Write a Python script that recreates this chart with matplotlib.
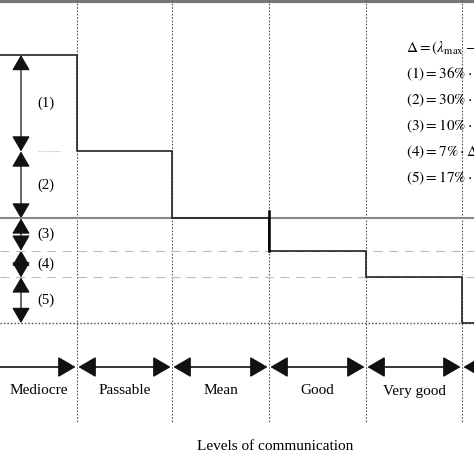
import matplotlib.pyplot as plt
from matplotlib.patches import FancyArrowPatch

plt.rcParams['font.family'] = ['Liberation Serif', 'DejaVu Serif']
plt.rcParams['mathtext.fontset'] = 'stix'

# level boundaries along x (pixel-ish units) and class names
bounds = [-20, 77, 172, 269, 366, 462, 560]
classes = ["Mediocre", "Passable", "Mean", "Good", "Very good"]
# step heights (percent of delta)
levels = [100, 64, 39, 27, 17, 0]
steps = [100, 64, 39, 27, 17, 0]   # value held on each interval
parts = ["(1)", "(2)", "(3)", "(4)", "(5)"]
formulas = [r"$\Delta=\left(\lambda_{\max}-\lambda_{\min}\right)$",
            r"$(1)=36\%\cdot\Delta$", r"$(2)=30\%\cdot\Delta$",
            r"$(3)=10\%\cdot\Delta$", r"$(4)=7\%\cdot\Delta$",
            r"$(5)=17\%\cdot\Delta$"]

Y0, Y100 = 323, 55
def py(v):
    return Y0 - (Y0 - Y100) * v / 100

fig = plt.figure(figsize=(4.74, 4.74), dpi=100)
ax = fig.add_axes([0, 0, 1, 1])
ax.set_xlim(0, 474)
ax.set_ylim(474, 0)
ax.axis("off")

# top border
ax.plot([0, 474], [1, 1], color="#777777", lw=3)

# vertical dotted boundaries
for b in bounds[1:-1]:
    ax.plot([b, b], [0, 422], color="#555555", lw=0.8, ls=(0, (1.5, 1.5)))

# horizontal reference lines
ax.plot([0, 474], [py(levels[2]), py(levels[2])], color="#888888", lw=1.5)
for v in levels[3:5]:
    ax.plot([0, 474], [py(v), py(v)], color="#bbbbbb", lw=0.8, ls=(0, (8, 6)))
ax.plot([0, 474], [py(0), py(0)], color="#444444", lw=1, ls=(0, (1, 1.5)))

# step function
xs, ys = [], []
for i, v in enumerate(steps):
    xs += [bounds[i], bounds[i + 1]]
    ys += [py(v), py(v)]
ax.plot(xs, ys, color="#222222", lw=1.2)
ax.plot([269, 269], [211, py(steps[3])], color="black", lw=1.8)

# left arrows for parts
for i, lab in enumerate(parts):
    a, b = py(levels[i]), py(levels[i + 1])
    ax.add_patch(FancyArrowPatch((21, a), (21, b), arrowstyle="<|-|>,head_length=0.6,head_width=0.35",
                 mutation_scale=16, color="#111111", lw=0.9, shrinkA=0, shrinkB=0))
    ax.text(37, (a + b) / 2, lab, fontsize=10.5, va="center", ha="left")
ax.plot([38, 60], [151, 151], color="#cccccc", lw=0.8, ls=(0, (2, 1)))

# formulas
for k, f in enumerate(formulas):
    ax.text(406, 48 + k * 26, f, fontsize=11, va="center", ha="left")

# bottom axis with double arrows
for i, name in enumerate(classes):
    ax.add_patch(FancyArrowPatch((bounds[i], 367), (bounds[i + 1], 367),
                 arrowstyle="<|-|>,head_length=0.6,head_width=0.35",
                 mutation_scale=18, color="#111111", lw=1.2, shrinkA=1, shrinkB=1))
    cx = (max(bounds[i], 0) + bounds[i + 1]) / 2
    ax.text(cx, 391, name, fontsize=11, ha="center", va="center")
ax.add_patch(FancyArrowPatch((bounds[5], 367), (bounds[6], 367),
             arrowstyle="<|-|>,head_length=0.6,head_width=0.35",
             mutation_scale=18, color="#111111", lw=1.2, shrinkA=1, shrinkB=1))

ax.text(275, 447, "Levels of communication", fontsize=11, ha="center", va="center")

fig.savefig("out.png", dpi=100)
